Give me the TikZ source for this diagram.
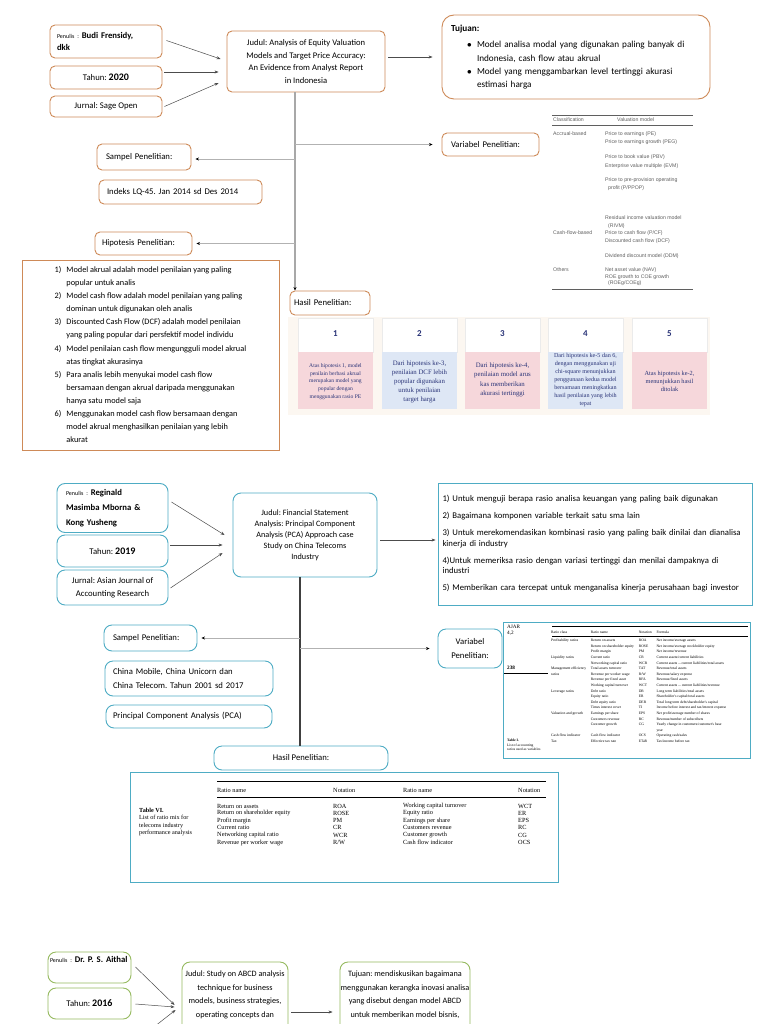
\documentclass[tikz,border=0pt]{standalone}
\usepackage{fontspec}
\setmainfont{Carlito}
\newfontfamily\paperfont{Liberation Serif}
\newfontfamily\gillfont{Liberation Sans}
\usepackage{xcolor}
\usetikzlibrary{arrows.meta,calc}

\definecolor{orangeline}{RGB}{206,138,88}
\definecolor{tealline}{RGB}{78,172,196}
\definecolor{greenline}{RGB}{150,186,96}
\definecolor{trunkgray}{RGB}{168,168,168}
\definecolor{cellpink}{RGB}{246,215,219}
\definecolor{cellblue}{RGB}{222,231,245}
\definecolor{cellcream}{RGB}{252,247,241}
\definecolor{cellnavy}{RGB}{42,52,120}
\definecolor{tabgray}{RGB}{95,95,95}

\newcommand{\fsz}[2]{\fontsize{#1}{#2}\selectfont}

\begin{document}
\frenchspacing
\begin{tikzpicture}[x=1pt, y=-1pt,
    every node/.style={font=\fsz{8.7}{12.5}, inner sep=0pt},
    obox/.style={draw=orangeline, line width=0.9pt, rounded corners=5pt},
    tbox/.style={draw=tealline, line width=0.9pt, rounded corners=8pt},
    gbox/.style={draw=greenline, line width=0.9pt, rounded corners=8pt},
    feed/.style={-{Stealth[length=4pt,width=3pt]}, draw=black!70, line width=0.5pt},
    trunk/.style={draw=trunkgray, line width=1.1pt},
    branch/.style={-{Stealth[length=3.5pt,width=3pt,black]}, draw=black!30, line width=0.8pt},
    rescell/.style={align=center, text=cellnavy},
    valtxt/.style={anchor=west, text=tabgray, font=\gillfont\fsz{5.2}{6}},
    sixtxt/.style={anchor=west, font=\paperfont\fsz{6.3}{7}}]
\useasboundingbox (0,0) rectangle (768,1024);
\fill[white] (0,0) rectangle (768,1024);
\clip (0,0) rectangle (768,1024);

% ---------------- Paper 1 ----------------
\node[obox, minimum width=112pt, minimum height=33pt, text width=98pt, align=left] (pen1) at (106,41.5)
    {{\fsz{6}{8}Penulis :} \textbf{Budi Frensidy,}\\\textbf{dkk}};
\node[obox, minimum width=112pt, minimum height=23pt] (thn1) at (106,77.5)
    {Tahun: {\fsz{10}{12}\textbf{2020}}};
\node[obox, minimum width=112pt, minimum height=21pt] (jur1) at (106,106.5) {Jurnal: Sage Open};
\node[obox, minimum width=158pt, minimum height=61pt, align=center, font=\fsz{8.6}{12.7}] (jdl1) at (306,61.5)
    {Judul: Analysis of Equity Valuation\\Models and Target Price Accuracy:\\An Evidence from Analyst Report\\in Indonesia};
\node[obox, rounded corners=12pt, minimum width=268pt, minimum height=84pt, text width=250pt, align=left, font=\fsz{9.2}{13.3}] (tuj1) at (576,57)
    {\textbf{Tujuan:}\\[3.5pt]
     \hspace*{16pt}\makebox[10pt][l]{$\bullet$}Model analisa modal yang digunakan paling banyak di\\
     \hspace*{26pt}Indonesia, cash flow atau akrual\\
     \hspace*{16pt}\makebox[10pt][l]{$\bullet$}Model yang menggambarkan level tertinggi akurasi\\
     \hspace*{26pt}estimasi harga};
\node[obox, minimum width=97pt, minimum height=23pt, text width=79pt, align=left] (var1) at (490.5,144.5) {Variabel Penelitian:};
\node[obox, minimum width=94pt, minimum height=26pt, text width=76pt, align=left] (smp1) at (144,157) {Sampel Penelitian:};
\node[obox, minimum width=163pt, minimum height=24pt, text width=147pt, align=left] (idx1) at (180.5,192) {Indeks LQ-45. Jan 2014 sd Des 2014};
\node[obox, minimum width=97pt, minimum height=23pt, text width=83pt, align=left] (hip1) at (143.5,243.5) {Hipotesis Penelitian:};
\node[obox, rounded corners=0pt, minimum width=257pt, minimum height=190pt, font=\fsz{8.3}{13.1}] (hpl1) at (150.5,355)
    {\begin{tabular}{@{}r@{\hspace{5pt}}l@{}}
     1) & Model akrual adalah model penilaian yang paling\\
        & popular untuk analis\\
     2) & Model cash flow adalah model penilaian yang paling\\
        & dominan untuk digunakan oleh analis\\
     3) & Discounted Cash Flow (DCF) adalah model penilaian\\
        & yang paling popular dari persfektif model individu\\
     4) & Model penilaian cash flow mengungguli model akrual\\
        & atas tingkat akurasinya\\
     5) & Para analis lebih menyukai model cash flow\\
        & bersamaan dengan akrual daripada menggunakan\\
        & hanya satu model saja\\
     6) & Menggunakan model cash flow bersamaan dengan\\
        & model akrual menghasilkan penilaian yang lebih\\
        & akurat
     \end{tabular}};
\node[obox, minimum width=80pt, minimum height=24pt, text width=72pt, align=left] (has1) at (330,303) {Hasil Penelitian:};

% connectors paper 1
\draw[feed] ($(pen1.east)+(4,-1)$) -- ($(jdl1.west)+(-6,-2.5)$);
\draw[feed] ($(thn1.east)+(2,-5.5)$) -- ($(jdl1.west)+(-8,10.5)$);
\draw[feed] ($(jur1.east)+(2,0)$) -- ($(jdl1.west)+(-8,21.5)$);
\draw[feed] ($(jdl1.east)+(3,-4.5)$) -- ($(tuj1.west)+(-9,0)$);
\coordinate (t1) at ($(jdl1.south)+(-11,0)$);
\draw[trunk, -{Stealth[length=3.5pt,width=3pt,black]}] (t1) -- (t1 |- has1.north);
\draw[branch] (t1 |- var1.west) -- ($(var1.west)+(-9,0)$);
\draw[branch] ($(t1 |- smp1.east)+(0,2)$) -- ($(smp1.east)+(4,2)$);
\draw[branch] (t1 |- hip1.east) -- ($(hip1.east)+(4,0)$);

% hasil penelitian strip
\fill[cellcream] (288,317) rectangle (710,415);
\foreach \xx/\cc [count=\i] in {298/cellpink, 382/cellblue, 465/cellpink, 548/cellblue, 632/cellpink} {
  \filldraw[fill=white, draw=black!8] (\xx,318) rectangle ++(75,34);
  \fill[\cc] (\xx,352) rectangle ++(75,57);
  \node[font=\bfseries\fsz{9}{11}, text=cellnavy] (num\i) at (\xx+37.5,334) {\i};
}
\node[rescell, font=\paperfont\fsz{5.6}{7.6}] (res1) at (335.5,381.5)
    {Atas hipotesis 1, model\\penilain berbasi akrual\\merupakan model yang\\popular dengan\\menggunakan rasio PE};
\node[rescell, font=\paperfont\fsz{6.8}{9}] (res2) at (419.5,382)
    {Dari hipotesis ke-3,\\penilaian DCF lebih\\popular digunakan\\untuk penilaian\\target harga};
\node[rescell, font=\paperfont\fsz{6.8}{9.3}] (res3) at (502.5,380)
    {Dari hipotesis ke-4,\\penilaian model arus\\kas memberikan\\akurasi tertinggi};
\node[rescell, font=\paperfont\fsz{6.1}{7.9}] (res4) at (585.5,380)
    {Dari hipotesis ke-5 dan 6,\\dengan menggunakan uji\\chi-square menunjukkan\\penggunaan kedua model\\bersamaan meningkatkan\\hasil penilaian yang lebih\\tepat};
\node[rescell, font=\paperfont\fsz{6.3}{8}] (res5) at (669.5,381)
    {Atas hipotesis ke-2,\\menunjukkan hasil\\ditolak};

% tabel model valuasi
\draw[tabgray, line width=0.5pt] (552,115) -- (693,115);
\draw[tabgray, line width=0.3pt] (552,125) -- (693,125);
\draw[tabgray, line width=0.5pt] (552,289) -- (693,289);
\node[valtxt] at (553,120) {Classification};
\node[valtxt] at (617,120) {Valuation model};
\node[valtxt] at (553,134) {Accrual-based};
\node[valtxt] at (553,233) {Cash-flow-based};
\node[valtxt] at (553,270) {Others};
\foreach \yy/\xx/\txt in {134/605/{Price to earnings (PE)}, 142/605/{Price to earnings growth (PEG)},
    157/605/{Price to book value (PBV)}, 166/605/{Enterprise value multiple (EVM)},
    180/605/{Price to pre-provision operating}, 188/608/{profit (P/PPOP)},
    218/605/{Residual income valuation model}, 226/608/{(RIVM)},
    233/605/{Price to cash flow (P/CF)}, 241/605/{Discounted cash flow (DCF)},
    256/605/{Dividend discount model (DDM)}, 270/605/{Net asset value (NAV)},
    277/605/{ROE growth to COE growth}, 283/608/{(ROEg/COEg)}}
  \node[valtxt] at (\xx,\yy) {\txt};

% ---------------- Paper 2 ----------------
\node[tbox, minimum width=111pt, minimum height=49pt, text width=93pt, align=left, font=\fsz{8.7}{15}] (pen2) at (112.5,508)
    {{\fsz{6}{8}Penulis :} \textbf{Reginald}\\\textbf{Masimba Mborna \&}\\\textbf{Kong Yusheng}};
\node[tbox, minimum width=111pt, minimum height=32pt] (thn2) at (112.5,551)
    {Tahun: {\fsz{10}{12}\textbf{2019}}\\[6pt]\mbox{}};
\node[tbox, minimum width=111pt, minimum height=35pt, align=center] (jur2) at (112.5,587.5)
    {Jurnal: Asian Journal of\\Accounting Research};
\node[tbox, minimum width=144pt, minimum height=84pt, align=center, font=\fsz{8.2}{11}] (jdl2) at (305,535)
    {Judul: Financial Statement\\Analysis: Principal Component\\Analysis (PCA) Approach case\\Study on China Telecoms\\Industry};
\node[tbox, rounded corners=0pt, minimum width=314pt, minimum height=122pt, text width=305pt, align=left, font=\fsz{8.7}{10.5}] (obj2) at (595,544)
    {1) Untuk menguji berapa rasio analisa keuangan yang paling baik digunakan\\[6.5pt]
     2) Bagaimana komponen variable terkait satu sma lain\\[6.5pt]
     3) Untuk merekomendasikan kombinasi rasio yang paling baik dinilai dan dianalisa\\
     kinerja di industry\\[6.5pt]
     4)Untuk memeriksa rasio dengan variasi tertinggi dan menilai dampaknya di\\
     industri\\[6.5pt]
     5) Memberikan cara tercepat untuk menganalisa kinerja perusahaan bagi investor};
\node[tbox, minimum width=93pt, minimum height=26pt, text width=75pt, align=left] (smp2) at (150.5,638) {Sampel Penelitian:};
\node[tbox, minimum width=168pt, minimum height=35pt, text width=152pt, align=left, font=\fsz{8.7}{14}] (cm2) at (189,678.5)
    {China Mobile, China Unicorn dan\\China Telecom. Tahun 2001 sd 2017};
\node[tbox, minimum width=166pt, minimum height=23pt, text width=152pt, align=left] (pca2) at (189,716.5) {Principal Component Analysis (PCA)};
\node[tbox, minimum width=64pt, minimum height=39pt, align=center, font=\fsz{8.7}{14}] (var2) at (470,648.5) {Variabel\\Penelitian:};
\node[tbox, minimum width=174pt, minimum height=24pt] (has2) at (301,758) {Hasil Penelitian:};

% connectors paper 2
\draw[feed] ($(pen2.east)+(3,-6)$) -- ($(jdl2.west)+(-8,0)$);
\draw[feed] ($(thn2.east)+(2,-6)$) -- ($(jdl2.west)+(-10,10)$);
\draw[feed] ($(jur2.east)+(2,0.5)$) -- ($(jdl2.west)+(-10,18)$);
\draw[feed] ($(jdl2.east)+(3,5)$) -- ($(obj2.west)+(-2,-4)$);
\coordinate (t2) at ($(jdl2.south)+(-5,0)$);
\draw[trunk, draw=black!75] (t2) -- (t2 |- has2.north);
\draw[branch] (t2 |- smp2.east) -- ($(smp2.east)+(4,0)$);
\draw[branch] (t2 |- var2.west) -- ($(var2.west)+(-8,0)$);

% tabel AJAR (Table I)
\node[tbox, rounded corners=0pt, minimum width=247pt, minimum height=136pt] (ajar2) at (626.5,690) {};
\node[anchor=north west, align=left, font=\paperfont\fsz{5.2}{5.5}] (ajarhd) at (507,625) {AJAR\\4,2};
\node[anchor=west, font=\paperfont\bfseries\fsz{5.2}{6}] (ajarpg) at (507,668) {238};
\draw[line width=0.8pt] (504,673) -- (548,673);
\node[anchor=north west, align=left, font=\paperfont\fsz{3.6}{4.3}] (ajarcap) at (507,739)
    {\textbf{Table I.}\\List of accounting\\ratios used as variables};
\draw[line width=0.8pt] (552,626) -- (748,626);
\draw[line width=0.3pt] (552,636.5) -- (748,636.5);
\node[anchor=north west, font=\paperfont\fsz{3.7}{5.6}] (ajartab) at (551,629)
    {\setlength{\tabcolsep}{2.4pt}%
     \begin{tabular}{@{}llll@{}}
     Ratio class & Ratio name & Notation & Formula\\[3pt]
     Profitability ratios & Return on assets & ROA & Net income/average assets\\
     & Return on shareholder equity & ROSE & Net income/average stockholder equity\\
     & Profit margin & PM & Net income/revenue\\
     Liquidity ratios & Current ratio & CR & Current assets/current liabilities\\
     & Networking capital ratio & WCR & Current assets -- current liabilities/total assets\\
     Management efficiency & Total assets turnover & TAT & Revenue/total assets\\
     ratios & Revenue per worker wage & R/W & Revenue/salary expense\\
     & Revenue per fixed asset & RFA & Revenue/fixed assets\\
     & Working capital turnover & WCT & Current assets -- current liabilities/revenue\\
     Leverage ratios & Debt ratio & DR & Long term liabilities/total assets\\
     & Equity ratio & ER & Shareholder's capital/total assets\\
     & Debt equity ratio & DER & Total long term debt/shareholder's capital\\
     & Times interest cover & TI & Income before interest and tax/interest expense\\
     Valuation and growth & Earnings per share & EPS & Net profit/average number of shares\\
     & Customers revenue & RC & Revenue/number of subscribers\\
     & Customer growth & CG & Yearly change in customers/customer's base\\
     & & & year\\
     Cash flow indicator & Cash flow indicator & OCS & Operating cash/sales\\
     Tax & Effective tax rate & ETaR & Tax/income before tax
     \end{tabular}};

% tabel VI
\node[tbox, rounded corners=0pt, minimum width=428pt, minimum height=110pt] (tab6) at (344,827) {};
\node[anchor=north west, align=left, font=\paperfont\fsz{6.2}{7.3}] (tab6cap) at (139,808)
    {\textbf{Table VI.}\\List of ratio mix for\\telecoms industry\\performance analysis};
\draw[line width=0.8pt] (217,781) -- (546,781);
\draw[line width=0.4pt] (217,797) -- (546,797);
\node[sixtxt] at (217,790) {Ratio name};
\node[sixtxt] at (333,790) {Notation};
\node[sixtxt] at (403,790) {Ratio name};
\node[sixtxt] at (518,790) {Notation};
\foreach \na/\nb/\nc/\nd [count=\r] in {Return on assets/ROA/Working capital turnover/WCT,
    Return on shareholder equity/ROSE/Equity ratio/ER,
    Profit margin/PM/Earnings per share/EPS,
    Current ratio/CR/Customers revenue/RC,
    Networking capital ratio/WCR/Customer growth/CG,
    Revenue per worker wage/{R/W}/Cash flow indicator/OCS} {
  \node[sixtxt] at (217,798.7+7.3*\r) {\na};
  \node[sixtxt] at (333,798.7+7.3*\r) {\nb};
  \node[sixtxt] at (403,798.7+7.3*\r) {\nc};
  \node[sixtxt] at (518,798.7+7.3*\r) {\nd};
}

% ---------------- Paper 3 ----------------
\node[gbox, minimum width=83pt, minimum height=31pt, text width=79pt, align=left] (pen3) at (89.5,967.5)
    {{\fsz{6}{8}Penulis :} \textbf{Dr. P. S. Aithal}\\[4pt]\mbox{}};
\node[gbox, minimum width=83pt, minimum height=31pt] (thn3) at (89.5,1003.5)
    {Tahun: {\fsz{10}{12}\textbf{2016}}};
\coordinate (jur3) at (150,1030);
\node[gbox, minimum width=106pt, minimum height=100pt] (jdl3) at (235,1012) {};
\node[anchor=north, align=center, font=\fsz{8.2}{13.4}] (jdl3txt) at (235,971)
    {Judul: Study on ABCD analysis\\technique for business\\models, business strategies,\\operating concepts dan};
\node[gbox, minimum width=130pt, minimum height=100pt] (tuj3) at (405,1012) {};
\node[anchor=north, align=center, font=\fsz{8.2}{13.4}] (tuj3txt) at (405,971)
    {Tujuan: mendiskusikan bagaimana\\menggunakan kerangka inovasi analisa\\yang disebut dengan model ABCD\\untuk memberikan model bisnis,};

% connectors paper 3
\draw[feed] ($(pen3.east)+(4,-0.5)$) -- ($(jdl3.west)+(-7,-7)$);
\draw[feed] ($(thn3.east)+(4,0.5)$) -- ($(jdl3.west)+(-7,-5)$);
\draw[feed] (jur3) -- ($(jdl3.west)+(-6,-2)$);
\draw[feed] ($(jdl3.east)+(3,0)$) -- ($(tuj3.west)+(-7,0)$);
\end{tikzpicture}
\end{document}
